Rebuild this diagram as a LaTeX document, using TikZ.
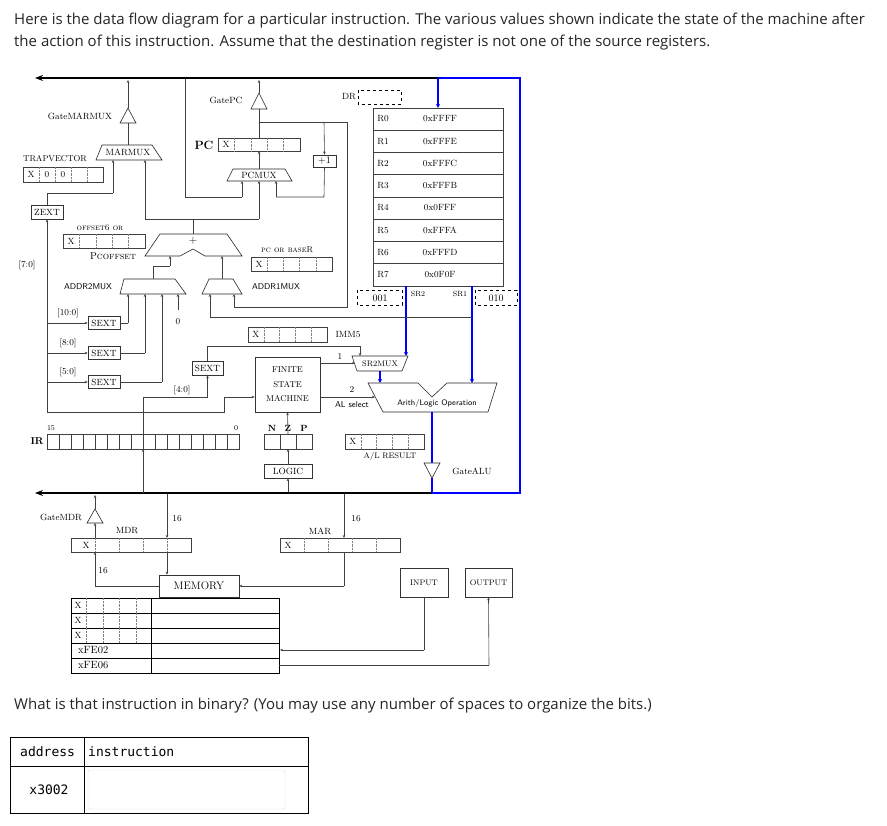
\documentclass[tikz,border=0pt]{standalone}
\usepackage{fontspec}
\newfontfamily\webfont{Open Sans}
\newfontfamily\monofont{DejaVu Sans Mono}
\usetikzlibrary{arrows.meta}

% register with cells: x1 y1 x2 y2 cells
\newcommand\regcells[5]{%
  \draw[line width=0.6pt, draw=black!75] (#1,#2) rectangle (#3,#4);
  \pgfmathsetmacro\cw{(#3-#1)/#5}
  \foreach \i in {1,...,\numexpr#5-1\relax} \draw[densely dotted, black!50] ({#1+\i*\cw},#2) -- ({#1+\i*\cw},#4);
  \node[lbl] at ({#1+\cw/2},{(#2+#4)/2}) {X};}

\begin{document}
\begin{tikzpicture}[x=1pt,y=-1pt,
  wire/.style={draw=black!75, line width=0.6pt},
  arr/.style={wire,-{Stealth[length=3pt,width=2.5pt]}},
  bus/.style={line width=2.2pt},
  bbus/.style={line width=1.8pt, blue},
  barr/.style={line width=1.2pt, blue, -{Stealth[length=4pt,width=4pt]}},
  lbl/.style={font=\fontsize{9}{10}\selectfont, inner sep=0pt},
  slbl/.style={font=\fontsize{8.5}{9}\selectfont\sffamily, inner sep=0pt},
  box/.style={draw=black!80, line width=0.6pt, inner sep=0pt, font=\fontsize{9}{10}\selectfont},
  shp/.style={draw=black!85, line width=0.6pt, fill=white},
  web/.style={anchor=base west, inner sep=0pt, font=\webfont\fontsize{15}{18}\selectfont, text=black!85}
]
\useasboundingbox[fill=white] (0,0) rectangle (887,826);

% question text
\node[web] (q1) at (14,25) {Here is the data flow diagram for a particular instruction. The various values shown indicate the state of the machine after};
\node[web] (q2) at (14,47) {the action of this instruction. Assume that the destination register is not one of the source registers.};
\node[web] (q3) at (14,709) {What is that instruction in binary? (You may use any number of spaces to organize the bits.)};

% buses
\draw[bus,-{Stealth[length=8pt,width=6pt]}] (438,78) -- (35,78);
\draw[bbus] (438,78) -- (520,78) -- (520,493) -- (432,493);
\draw[bus,-{Stealth[length=8pt,width=6pt]}] (432,493) -- (35,493);

% register file
\draw[line width=0.6pt, draw=black!75] (373,108) rectangle (503,286);
\foreach \v [count=\i from 0] in {0xFFFF,0xFFFE,0xFFFC,0xFFFB,0x0FFF,0xFFFA,0xFFFD,0x0F0F} {
  \node[lbl] at (383,{119+\i*22.25}) {R\i};
  \node[lbl] at (440,{119+\i*22.25}) {\v};
  \ifnum\i<7 \draw[line width=0.6pt, draw=black!75] (373,{108+(\i+1)*22.25}) -- (503,{108+(\i+1)*22.25}); \fi
}
\draw[barr] (438,78) -- (438,108);
\node[lbl] (dr) at (349,97) {DR};
\draw[dashed, line width=0.6pt] (358,90) rectangle (401,104);
\draw[dashed, line width=0.6pt] (357,290) rectangle (402,305);
\node[lbl, font=\fontsize{10}{11}\selectfont] (sr2v) at (380,298) {001};
\draw[dashed, line width=0.6pt] (475,290) rectangle (517,305);
\node[lbl, font=\fontsize{10}{11}\selectfont] (sr1v) at (496,298) {010};
\node[lbl, font=\fontsize{7.5}{8}\selectfont] at (418,294) {SR2};
\node[lbl, font=\fontsize{7.5}{8}\selectfont] at (460,294) {SR1};
\draw[barr] (406,286) -- (406,356);
\draw[barr] (472,286) -- (472,383);

% SR2MUX and ALU
\draw[shp] (352,356) -- (408,356) -- (402,371) -- (357,371) -- cycle;
\node[lbl, font=\fontsize{8}{9}\selectfont] (sr2mux) at (380,363.5) {SR2MUX};
\draw[barr] (380,371) -- (380,383);
\draw[shp] (368,383) -- (418,383) -- (432,397) -- (447,383) -- (497,383) -- (488,412) -- (383,412) -- cycle;
\node[slbl, font=\fontsize{8}{9}\selectfont\sffamily] (alu) at (437,404) {Arith/Logic Operation};
\draw[bbus, line width=1.2pt] (432,412) -- (432,463);
\draw[shp] (424,463) -- (440,463) -- (432,478) -- cycle;
\draw[bbus, line width=1.2pt] (432,478) -- (432,493);
\node[lbl] (gatealu) at (472,471) {GateALU};
\regcells{345}{434}{424}{449}{5}
\node[lbl, font=\fontsize{8}{9}\selectfont] at (390,457) {A/L RESULT};

% finite state machine
\node[box, minimum width=65, minimum height=55, align=center, font=\fontsize{8.5}{14.5}\selectfont] (fsm) at (287.5,384.5) {FINITE\\STATE\\MACHINE};
\draw[arr] (320,363) -- (355,363);
\node[lbl] at (340,357) {1};
\draw[arr] (320,397) -- (375,397);
\node[lbl] at (352,390) {2};
\node[slbl] at (352,405) {AL select};
\regcells{248}{327}{327}{342}{5}
\node[lbl] (imm5) at (348,335) {IMM5};

% SEXT [4:0]
\node[box, minimum width=31, minimum height=14] (sext4) at (207.5,368) {SEXT};
\draw[wire] (143,434) -- (143,397) -- (207.5,397);
\draw[arr] (207.5,397) -- (sext4.south);
\node[lbl] at (182,390) {[4:0]};
\draw[wire] (sext4.north) -- (207.5,346) -- (360,346);
\draw[arr] (360,346) -- (360,356);

% IR
\draw[line width=0.6pt, draw=black!75] (47,434) rectangle (239,449);
\foreach \i in {1,...,15} \draw[line width=0.5pt, draw=black!75] ({47+\i*12},434) -- ({47+\i*12},449);
\node[lbl, font=\fontsize{10}{11}\selectfont\bfseries] (ir) at (37,441) {IR};
\node[lbl, font=\fontsize{7.5}{8}\selectfont] at (51,428) {15};
\node[lbl, font=\fontsize{7.5}{8}\selectfont] at (236,428) {0};
\draw[arr] (143,493) -- (143,449);

% left IR fields
\node[box, minimum width=32, minimum height=14] (zext) at (47,212) {ZEXT};
\draw[arr] (47,412) -- (zext.south);
\draw[wire] (47,412) -- (224,412) -- (224,397);
\draw[arr] (224,397) -- (fsm.west |- 0,397);
\node[lbl] at (27,265) {[7:0]};
\foreach \y/\f/\xo in {323/{[10:0]}/128, 353/{[8:0]}/145, 382/{[5:0]}/162} {
  \node[box, minimum width=32, minimum height=13] (s\xo) at (104,\y) {SEXT};
  \draw[arr] (47,\y) -- (s\xo.west);
  \node[lbl] at (68,{\y-10}) {\f};
  \draw[wire] (s\xo.east) -- (\xo,\y);
  \draw[arr] (\xo,\y) -- (\xo,294);
}
\draw[arr] (178,310) -- (178,294);
\node[lbl] at (178,322) {0};

% address muxes and adder
\draw[shp] (124,279) -- (175,279) -- (186,294) -- (120,294) -- cycle;
\node[slbl] (a2lbl) at (88,287) {ADDR2MUX};
\draw[shp] (209,279) -- (233,279) -- (242,294) -- (202,294) -- cycle;
\node[slbl] (a1lbl) at (276,287) {ADDR1MUX};
\draw[wire] (472,317) -- (210,317);
\draw[arr] (210,317) -- (210,294);
\draw[wire] (259,122) -- (347,122) -- (347,307) -- (234,307);
\draw[arr] (234,307) -- (234,294);
\draw[wire] (153,279) -- (153,266) -- (170,266);
\draw[arr] (170,266) -- (170,256);
\draw[arr] (222,279) -- (222,256);
\draw[shp] (160,234) -- (227,234) -- (242,256) -- (205,256) -- (193,249) -- (180,256) -- (145,256) -- cycle;
\node[lbl, font=\fontsize{11}{11}\selectfont] (adder) at (193,241) {+};
\draw[wire] (193,234) -- (193,219);
\draw[wire] (145,219) -- (259,219);
\draw[arr] (145,219) -- (145,160);
\draw[arr] (259,219) -- (259,181);

% MARMUX
\draw[shp] (102,145) -- (152,145) -- (162,160) -- (96,160) -- cycle;
\node[lbl] (marmux) at (128,152.5) {MARMUX};
\draw[wire] (128,145) -- (128,123);
\draw[shp] (120,123) -- (136,123) -- (128,108) -- cycle;
\draw[arr] (128,108) -- (128,80);
\node[lbl] at (80,116) {GateMARMUX};
\draw[wire] (zext.north) -- (47,193) -- (113,193);
\draw[arr] (113,193) -- (113,160);
\node[lbl, font=\fontsize{8.5}{9}\selectfont] at (55,159) {TRAPVECTOR};
\regcells{23}{167}{103}{182}{5}
\node[lbl] at (47,174.5) {0};
\node[lbl] at (63,174.5) {0};
\node[lbl, font=\fontsize{8.5}{9}\selectfont] at (100,228) {\textsc{offset6 or}};
\regcells{63}{234}{145}{248}{5}
\node[lbl, font=\fontsize{10}{11}\selectfont] at (113,256) {P\textsc{coffset}};
\node[lbl, font=\fontsize{8.5}{9}\selectfont] at (287,250) {\textsc{pc or base}R};
\regcells{251}{257}{332}{271}{5}

% PC
\regcells{218}{138}{300}{151}{5}
\node[lbl, font=\fontsize{12}{13}\selectfont\bfseries] (pc) at (204,145) {PC};
\draw[shp] (233,169) -- (285,169) -- (292,181) -- (227,181) -- cycle;
\node[lbl] (pcmux) at (259,175) {PCMUX};
\draw[arr] (259,169) -- (259,151);
\draw[wire] (259,138) -- (259,109);
\draw[shp] (251,109) -- (267,109) -- (259,93) -- cycle;
\draw[arr] (259,93) -- (259,80);
\node[lbl] at (226,100) {GatePC};
\node[box, minimum width=23, minimum height=12, font=\fontsize{10}{11}\selectfont] (inc) at (324.5,161) {$+1$};
\draw[arr] (324,122) -- (inc.north);
\draw[wire] (inc.south) -- (324,197) -- (276,197);
\draw[arr] (276,197) -- (276,181);
\draw[wire] (185,79) -- (185,197) -- (242,197);
\draw[arr] (242,197) -- (242,181);

% condition codes
\draw[line width=0.6pt, draw=black!75] (264,434) rectangle (312,449);
\draw[line width=0.6pt, draw=black!75] (280,434) -- (280,449) (296,434) -- (296,449);
\foreach \c [count=\i from 0] in {N,Z,P} \node[lbl, font=\fontsize{9}{10}\selectfont\bfseries] at ({272+\i*16},428) {\c};
\node[box, minimum width=48, minimum height=14] (logic) at (288,471) {LOGIC};
\draw[arr] (288,492) -- (logic.south);
\draw[arr] (logic.north) -- (288,449);
\draw[arr] (288,434) -- (fsm.south);

% memory side
\draw[shp] (87,523) -- (103,523) -- (95,509) -- cycle;
\draw[arr] (95,509) -- (95,495);
\node[lbl] at (61,517) {GateMDR};
\draw[line width=0.6pt, draw=black!75] (71,538) rectangle (191,552);
\foreach \i in {1,...,4} \draw[densely dotted, black!50] ({71+\i*24},538) -- ({71+\i*24},552);
\node[lbl] at (86,545) {X};
\node[lbl] (mdr) at (127,531) {MDR};
\draw[arr] (95,538) -- (95,523);
\draw[arr] (167,494) -- (167,538);
\node[lbl] at (177,519) {16};
\draw[line width=0.6pt, draw=black!75] (280,538) rectangle (400,552);
\foreach \i in {1,...,4} \draw[densely dotted, black!50] ({280+\i*24},538) -- ({280+\i*24},552);
\node[lbl] at (288,545) {X};
\node[lbl] (mar) at (320,531) {MAR};
\draw[arr] (344,494) -- (344,538);
\node[lbl] at (356,519) {16};
\node[box, minimum width=80, minimum height=22, font=\fontsize{11}{12}\selectfont] (mem) at (199,586) {MEMORY};
\draw[arr] (167,552) -- (mem.north -| 167,0);
\draw[wire] (mem.west) -- (95,586);
\draw[arr] (95,586) -- (95,552);
\node[lbl] at (103,571) {16};
\draw[wire] (344,552) -- (344,586);
\draw[arr] (344,586) -- (mem.east);

% memory table
\draw[line width=0.6pt] (71,598) rectangle (279,673) (151,598) -- (151,673);
\foreach \y in {613,628,643,658} \draw[line width=0.6pt] (71,\y) -- (279,\y);
\foreach \y in {598,613,628} {
  \node[lbl] at (78,{\y+7.5}) {X};
  \foreach \i in {1,...,4} \draw[densely dotted, black!50] ({70+\i*16.5},\y) -- ({70+\i*16.5},{\y+15});
}
\node[lbl, anchor=west, font=\fontsize{10.5}{11}\selectfont] at (78,650.5) {xFE02};
\node[lbl, anchor=west, font=\fontsize{10.5}{11}\selectfont] at (78,665.5) {xFE06};
\node[box, minimum width=48, minimum height=29, font=\fontsize{8}{9}\selectfont] (inp) at (424,582.5) {INPUT};
\node[box, minimum width=47, minimum height=29, font=\fontsize{8}{9}\selectfont] (outp) at (488.5,582.5) {OUTPUT};
\draw[wire] (inp.south) -- (424,650);
\draw[arr] (424,650) -- (280,650);
\draw[wire] (279,665) -- (489,665);
\draw[arr] (489,665) -- (outp.south);

% answer table
\draw[line width=0.8pt] (10,737) rectangle (308,813) (10,766) -- (308,766) (84,737) -- (84,813);
\node[anchor=west, inner sep=0, font=\monofont\fontsize{13}{14}\selectfont] (ah) at (20,752) {address};
\node[anchor=west, inner sep=0, font=\monofont\fontsize{13}{14}\selectfont] (ih) at (88,752) {instruction};
\node[inner sep=0, font=\monofont\fontsize{13}{14}\selectfont] (addr) at (49,790) {x3002};
\draw[black!12, rounded corners=2pt] (88,770) rectangle (285,809);
\end{tikzpicture}
\end{document}
